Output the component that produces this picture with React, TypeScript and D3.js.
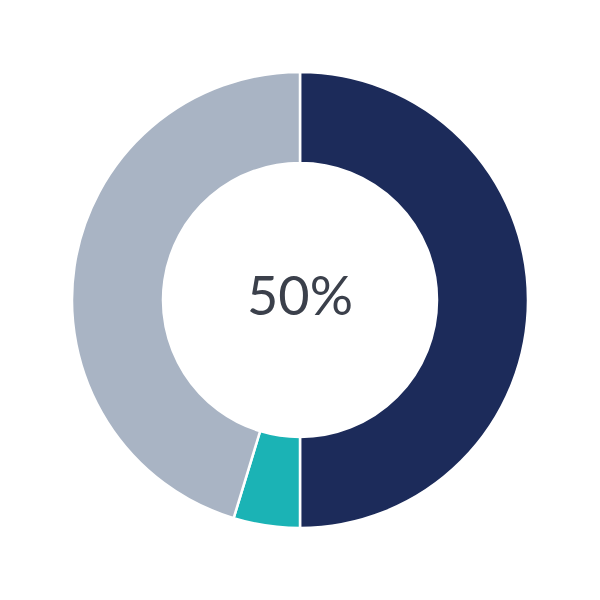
import React from "react";
import * as d3 from "d3";

const categories = ["Navy", "Teal", "Gray"];
const values = [50, 4.7, 45.3];
const colors = ["#1c2b5a", "#1bb3b5", "#a9b4c4"];
const centerLabel = "50%";

export default function App() {
  const width = 600;
  const height = 600;
  const cx = 300;
  const cy = 300;
  const outerR = 228;
  const innerR = 137;

  const pie = d3.pie<number>().sort(null).value((d) => d);
  const arcs = pie(values);
  const arc = d3.arc<d3.PieArcDatum<number>>().innerRadius(innerR).outerRadius(outerR);

  return (
    <svg
      width={width}
      height={height}
      style={{ position: "absolute", left: 0, top: 0, background: "#fff" }}
    >
      <g transform={`translate(${cx},${cy})`}>
        {arcs.map((a, i) => (
          <path
            key={categories[i]}
            d={arc(a) || ""}
            fill={colors[i]}
            stroke="#ffffff"
            strokeWidth={2.5}
          />
        ))}
        <text
          x={0}
          y={15}
          textAnchor="middle"
          fontFamily="Lato, sans-serif"
          fontSize={54}
          fill="#3b404b"
        >
          {centerLabel}
        </text>
      </g>
    </svg>
  );
}
